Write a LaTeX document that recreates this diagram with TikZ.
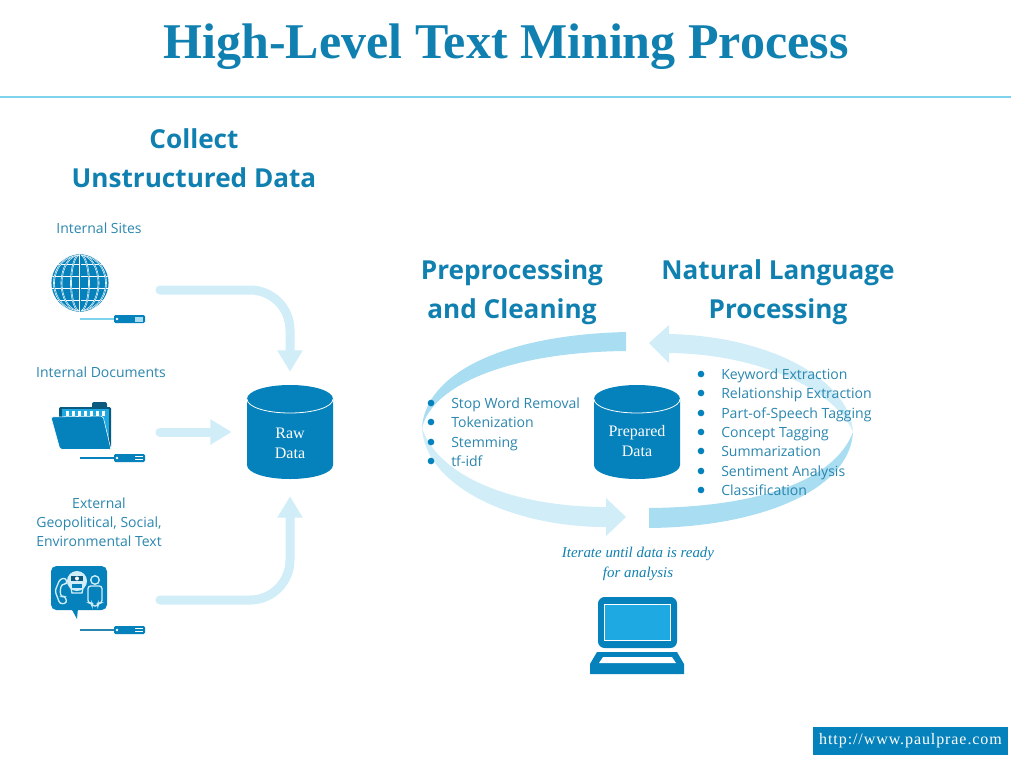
\documentclass[tikz,border=0pt]{standalone}
\usepackage{fontspec}
\setmainfont{Open Sans}
\newfontfamily\serifface{Liberation Serif}
\usetikzlibrary{arrows.meta}
\definecolor{deepblue}{HTML}{0581BB}
\definecolor{darktab}{HTML}{0A5A80}
\definecolor{headblue}{HTML}{1080B0}
\definecolor{bodyblue}{HTML}{2A86AE}
\definecolor{ruleblue}{HTML}{7FD2EC}
\definecolor{paleflow}{HTML}{D0EDF8}
\definecolor{midflow}{HTML}{A9DDF2}
\definecolor{screenblue}{HTML}{1FA9E3}
\tikzset{
    heading/.style={text=headblue, align=center, font=\bfseries\fontsize{19.6}{29}\selectfont},
    smalllabel/.style={text=bodyblue, align=center, font=\fontsize{10.5}{14.2}\selectfont},
    listitem/.style={text=bodyblue, anchor=west, inner sep=0pt, text height=11pt, text depth=2.5pt, font=\fontsize{10.55}{12}\selectfont},
    listdot/.style={circle, fill=deepblue, inner sep=0pt, minimum size=5pt},
    storebox/.style={minimum width=64.5pt, minimum height=70.5pt, inner sep=0pt},
    cyltext/.style={text=white, align=center, inner sep=0pt, font=\serifface\fontsize{12}{15}\selectfont},
    flowarrow/.style={draw=paleflow, line width=6.75pt, line cap=round, rounded corners=30pt,
        -{Triangle[width=18pt,length=16pt]}},
    globeline/.style={draw=white, double=deepblue, line width=.45pt, double distance=.3pt},
    iconline/.style={draw=paleflow, line width=1pt}
}
\begin{document}
\begin{tikzpicture}[x=.75pt, y=-.75pt]
        \useasboundingbox (0,0) rectangle (1011,758);

        \node (title) [text=headblue, font=\serifface\bfseries\fontsize{37.5}{42}\selectfont] at (506,47) {High-Level Text Mining Process};
        \draw [ruleblue, line width=1.5pt] (0,97) -- (1011,97);

        \node (collect) [heading] at (194,158) {Collect\\Unstructured Data};
        \node (prep) [heading] at (512,292.5) {Preprocessing\\and Cleaning};
        \node (nlp) [heading] at (778,292.5) {Natural Language\\Processing};

        \node (sites) [smalllabel] at (99,228) {Internal Sites};
        \node (docs) [smalllabel] at (101,372) {Internal Documents};
        \node (external) [smalllabel] at (99,522) {External\\Geopolitical, Social,\\Environmental Text};

        % globe
        \fill [deepblue] (80,283) circle (21.4pt);
        \begin{scope}
            \clip (80,283) circle (21.4pt);
            \foreach \y in {265,277,289,301}
                \draw [globeline] (50,\y) -- (110,\y);
            \foreach \r in {9,18.5,26}
                \draw [globeline] (80,283) ellipse ({\r*.75pt} and 21.4pt);
            \draw [globeline] (80,254) -- (80,312);
        \end{scope}

        % folder
        \fill [darktab, rounded corners=1.5pt] (92,402) rectangle (107,410);
        \fill [darktab, rounded corners=1pt] (59,407) rectangle (111,448);
        \fill [screenblue] (62,409) rectangle (109,447);
        \foreach \x in {66,72,...,102}
            \fill [white] (\x,411) rectangle ++(3,5);
        \fill [deepblue, draw=white, line width=.4pt, rounded corners=1.5pt] (51,417) -- (103,416) -- (111,449.5) -- (60,449.5) -- cycle;

        % speech bubble
        \fill [deepblue, rounded corners=4pt] (51,566) rectangle (107,610);
        \fill [deepblue] (71,608) -- (77,619) -- (78,608) -- cycle;
        \draw [iconline, fill=deepblue, rounded corners=2pt] (66,578) -- (60,579) -- (55,591) -- (60,604) -- (67,603) -- (65,596) -- (61,597) -- (60,590) -- (62,584) -- (67,584) -- cycle;
        \draw [iconline, fill=paleflow] (77,581) circle (7pt);
        \fill [darktab] (71,576) rectangle (83,581);
        \fill [white] (77,578.5) circle (1.5pt);
        \draw [iconline] (71,588) -- (72,593) -- (82,593) -- (83,588);
        \fill [deepblue] (72,584) rectangle (82,588);
        \draw [iconline] (95,580) circle (3.2pt);
        \draw [iconline, rounded corners=2pt] (88,603) -- (88,586) -- (102,586) -- (102,603) -- (98,603) -- (98,606) -- (92,606) -- (92,603) -- cycle;

        % server bars
        \foreach \y/\c in {319/ruleblue,458/deepblue,630/bodyblue} {
            \draw [\c, line width=.9pt] (80,\y) -- (114,\y);
            \fill [deepblue, rounded corners=1pt] (114,\y-4) rectangle (145,\y+4);
            \fill [white] (117,\y) circle (1.1pt);
        }
        \fill [midflow] (135,316.5) rectangle (143,321.5);
        \foreach \y in {458,630} {
            \draw [white, line width=.7pt] (135,\y-1.5) -- (143,\y-1.5);
            \draw [white, line width=.7pt] (135,\y+1.5) -- (143,\y+1.5);
        }

        % iteration ring
        \fill [midflow] (626,332) .. controls (500,335) and (425,375) .. (422,428) .. controls (432,385) and (510,352) .. (626,351) -- cycle;
        \fill [paleflow] (422,428) .. controls (425,485) and (510,527) .. (606,527) -- (606,536) -- (626,517) -- (606,498) -- (606,507) .. controls (520,507) and (440,480) .. (422,428) -- cycle;
        \fill [paleflow] (853,432) .. controls (850,380) and (770,336) .. (669,334) -- (669,325) -- (649,343) -- (669,363) -- (669,353) .. controls (760,354) and (835,390) .. (853,432) -- cycle;
        \fill [midflow] (853,432) .. controls (850,490) and (760,527) .. (649,528) -- (649,508) .. controls (760,507) and (835,480) .. (853,432) -- cycle;

        % data stores
        \foreach \x in {290,637} {
            \begin{scope}[shift={(\x,0)}]
                \fill [deepblue] (-43,399) .. controls (-43,391) and (-24,385) .. (0,385) .. controls (24,385) and (43,391) .. (43,399)
                    -- (43,465) .. controls (43,473) and (24,479) .. (0,479) .. controls (-24,479) and (-43,473) .. (-43,465) -- cycle;
                \draw [white, line width=.6pt] (-43,399) .. controls (-43,407) and (-24,413) .. (0,413) .. controls (24,413) and (43,407) .. (43,399);
            \end{scope}
        }
        \node (rawdata) [storebox] at (290,432) {};
        \node (prepdata) [storebox] at (637,432) {};
        \node (rawtext) [cyltext] at (290,443.5) {Raw\\Data};
        \node (preptext) [cyltext] at (637,441) {Prepared\\Data};

        % flow arrows
        \coordinate (sitesout) at (160,290);
        \coordinate (docsout) at (160,432);
        \coordinate (extout) at (160,600);
        \draw [flowarrow, shorten >=9.75pt] (sitesout) -| (rawdata.north);
        \draw [flowarrow, shorten >=11.25pt] (docsout) -- (rawdata.west);
        \draw [flowarrow, shorten >=12.75pt] (extout) -| (rawdata.south);

        % bullet lists
        \foreach \y/\t [count=\i] in {403/Stop Word Removal,422/Tokenization,442/Stemming,461/tf-idf} {
            \node (prepdot\i) [listdot] at (431,\y) {};
            \node (prepitem\i) [listitem] at (451,\y) {\t};
        }
        \foreach \y/\t [count=\i] in {374/Keyword Extraction,393/Relationship Extraction,413/Part-of-Speech Tagging,432/Concept Tagging,451/Summarization,471/Sentiment Analysis,490/Classification} {
            \node (nlpdot\i) [listdot] at (701,\y) {};
            \node (nlpitem\i) [listitem] at (721,\y) {\t};
        }

        \node (iterate) [text=headblue, align=center, font=\serifface\itshape\fontsize{11.2}{15}\selectfont] at (638,564) {Iterate until data is ready\\for analysis};

        % laptop
        \fill [deepblue, rounded corners=5pt] (598,597) -- (677,597) -- (677,648) -- (598,648) -- cycle;
        \fill [screenblue, draw=white, line width=.4pt] (604,604) rectangle (670,640);
        \fill [deepblue] (597,652) -- (677,652) -- (684,664) -- (684,674) -- (590,674) -- (590,664) -- cycle;
        \fill [white] (603,657) -- (672,657) -- (676,663) -- (599,663) -- cycle;

        \node (weblink) [fill=deepblue, text=white, minimum width=146.25pt, minimum height=21pt, inner sep=0pt, font=\serifface\fontsize{12}{14}\addfontfeatures{LetterSpace=5.7}\selectfont] at (910.5,741) {http://www.paulprae.com};
\end{tikzpicture}
\end{document}
